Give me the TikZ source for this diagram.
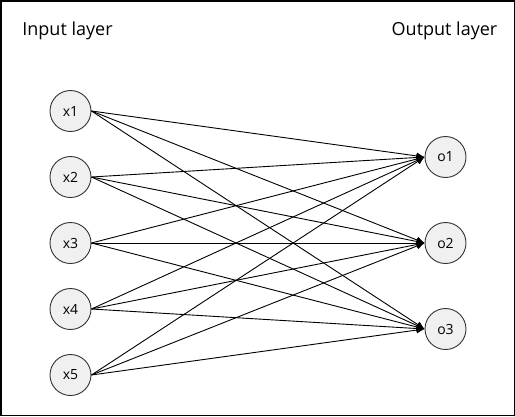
\documentclass[tikz,border=0pt]{standalone}
\usepackage{fontspec}
\setmainfont{Open Sans}
\usetikzlibrary{positioning,arrows.meta}
\tikzstyle{neuron} = [circle, minimum size=41pt, inner sep=0pt, draw=black!80, line width=0.9pt, fill=black!6, font=\fontsize{14}{16}\selectfont]
\tikzstyle{layer} = [font=\fontsize{18}{21}\selectfont]
\tikzstyle{arrow} = [line width=0.9pt,-{Latex[length=8pt,width=7pt]}]

\begin{document}
\begin{tikzpicture}[x=1pt, y=1pt, node distance = 66pt]

\useasboundingbox (0,0) rectangle (515,-416);
\draw [line width=1.5pt] (0.75,-0.75) rectangle (514.25,-415.25);

\node(inlabel)  [layer] at (67.5,-31) {Input layer};
\node(outlabel) [layer] at (444.5,-31) {Output layer};

\node(x1) [neuron] at (70.5,-111) {x1};
\node(x2) [neuron, below of = x1] {x2};
\node(x3) [neuron, below of = x2] {x3};
\node(x4) [neuron, below of = x3] {x4};
\node(x5) [neuron, below of = x4] {x5};

\node(o1) [neuron] at (445.5,-157) {o1};
\node(o2) [neuron, below of = o1, node distance = 86pt] {o2};
\node(o3) [neuron, below of = o2, node distance = 86pt] {o3};

\draw [arrow] (x1.east) -- (o1.west);
\draw [arrow] (x1.east) -- (o2.west);
\draw [arrow] (x1.east) -- (o3.west);
\draw [arrow] (x2.east) -- (o1.west);
\draw [arrow] (x2.east) -- (o2.west);
\draw [arrow] (x2.east) -- (o3.west);
\draw [arrow] (x3.east) -- (o1.west);
\draw [arrow] (x3.east) -- (o2.west);
\draw [arrow] (x3.east) -- (o3.west);
\draw [arrow] (x4.east) -- (o1.west);
\draw [arrow] (x4.east) -- (o2.west);
\draw [arrow] (x4.east) -- (o3.west);
\draw [arrow] (x5.east) -- (o1.west);
\draw [arrow] (x5.east) -- (o2.west);
\draw [arrow] (x5.east) -- (o3.west);

\end{tikzpicture}
\end{document}
